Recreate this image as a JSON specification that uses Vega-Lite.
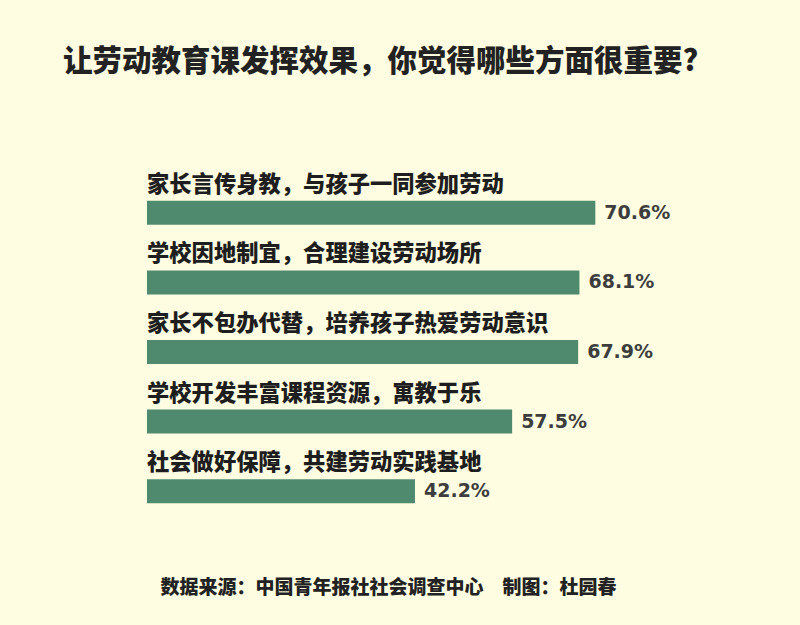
{
  "$schema": "https://vega.github.io/schema/vega-lite/v6.json",
  "width": 635,
  "height": 348,
  "autosize": "none",
  "padding": {"left": 147, "top": 178, "right": 18, "bottom": 99},
  "background": "#FEFDE1",
  "config": {"view": {"stroke": null}, "font": "Noto Sans CJK SC"},
  "title": {
    "text": "让劳动教育课发挥效果，你觉得哪些方面很重要?",
    "anchor": "start",
    "frame": "group",
    "dx": -84,
    "offset": 82,
    "baseline": "middle",
    "fontSize": 29.5,
    "fontWeight": 900,
    "color": "#222222",
    "font": "Noto Sans CJK SC"
  },
  "data": {
    "values": [
      {"item": "家长言传身教，与孩子一同参加劳动", "value": 70.6, "label": "70.6%"},
      {"item": "学校因地制宜，合理建设劳动场所", "value": 68.1, "label": "68.1%"},
      {"item": "家长不包办代替，培养孩子热爱劳动意识", "value": 67.9, "label": "67.9%"},
      {"item": "学校开发丰富课程资源，寓教于乐", "value": 57.5, "label": "57.5%"},
      {"item": "社会做好保障，共建劳动实践基地", "value": 42.2, "label": "42.2%"}
    ]
  },
  "encoding": {
    "y": {"field": "item", "type": "nominal", "sort": null, "axis": null, "scale": {"paddingInner": 0, "paddingOuter": 0}}
  },
  "layer": [
    {
      "mark": {"type": "bar", "size": 24, "color": "#4F8A6F"},
      "encoding": {
        "x": {
          "field": "value",
          "type": "quantitative",
          "scale": {"domain": [0, 100]},
          "axis": {
            "labels": false,
            "ticks": false,
            "domain": false,
            "grid": false,
            "title": "数据来源：中国青年报社社会调查中心　制图：杜园春",
            "titleX": 241,
            "titleY": 61,
            "titleAlign": "center",
            "titleBaseline": "middle",
            "titleFontSize": 19,
            "titleFontWeight": 900,
            "titleColor": "#222222",
            "titleFont": "Noto Sans CJK SC"
          }
        }
      }
    },
    {
      "mark": {"type": "text", "align": "left", "baseline": "middle", "dy": -28, "fontSize": 22.3, "fontWeight": 900, "color": "#1E1E1E"},
      "encoding": {
        "x": {"datum": 0},
        "text": {"field": "item"}
      }
    },
    {
      "mark": {"type": "text", "align": "left", "baseline": "middle", "dx": 9, "fontSize": 19, "fontWeight": "bold", "color": "#3D3D3D", "font": "DejaVu Sans"},
      "encoding": {
        "x": {"field": "value", "type": "quantitative"},
        "text": {"field": "label"}
      }
    }
  ]
}
